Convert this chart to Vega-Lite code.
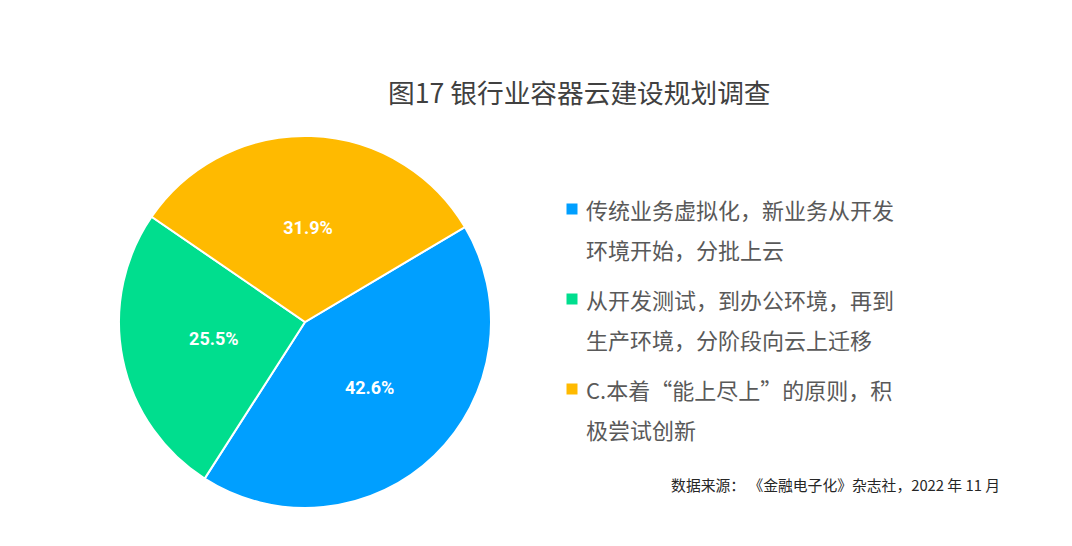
{
  "$schema": "https://vega.github.io/schema/vega-lite/v6.json",
  "width": 1072,
  "height": 546,
  "autosize": {"type": "none"},
  "padding": 0,
  "background": "white",
  "title": {
    "text": "图17 银行业容器云建设规划调查",
    "anchor": "start",
    "frame": "group",
    "dx": 388,
    "offset": -109,
    "fontSize": 26.7,
    "font": "Noto Sans CJK SC",
    "fontWeight": "normal",
    "color": "#404040"
  },
  "layer": [
    {
      "data": {
        "values": [
          {"category": "传统业务虚拟化，新业务从开发|环境开始，分批上云", "share": 42.6, "label": "42.6%", "order": 1},
          {"category": "从开发测试，到办公环境，再到|生产环境，分阶段向云上迁移", "share": 25.5, "label": "25.5%", "order": 2},
          {"category": "C.本着“能上尽上”的原则，积|极尝试创新", "share": 31.9, "label": "31.9%", "order": 3}
        ]
      },
      "encoding": {
        "theta": {"field": "share", "type": "quantitative", "stack": true, "scale": {"range": [1.035, 7.318]}},
        "order": {"field": "order", "type": "quantitative"},
        "x": {"value": 305},
        "y": {"value": 322}
      },
      "layer": [
        {
          "mark": {"type": "arc", "outerRadius": 186, "stroke": "white", "strokeWidth": 2},
          "encoding": {
            "color": {
              "field": "category",
              "type": "nominal",
              "scale": {
                "domain": [
                  "传统业务虚拟化，新业务从开发|环境开始，分批上云",
                  "从开发测试，到办公环境，再到|生产环境，分阶段向云上迁移",
                  "C.本着“能上尽上”的原则，积|极尝试创新"
                ],
                "range": ["#009FFF", "#00DE8E", "#FFBA00"]
              },
              "legend": {
                "orient": "none",
                "legendX": 561,
                "legendY": 198,
                "title": null,
                "symbolType": "square",
                "symbolSize": 121,
                "symbolStrokeWidth": 0,
                "symbolOpacity": 1,
                "labelFontSize": 22,
                "labelFont": "Noto Sans CJK SC",
                "labelColor": "#595959",
                "labelExpr": "split(datum.label, '|')",
                "labelLimit": 500,
                "labelOffset": 3,
                "labelBaseline": "top",
                "rowPadding": 25
              }
            }
          }
        },
        {
          "mark": {
            "type": "text",
            "radius": 93,
            "font": "Roboto",
            "fontSize": 18,
            "fontWeight": "bold",
            "color": "white"
          },
          "encoding": {"text": {"field": "label"}}
        }
      ]
    },
    {
      "data": {"values": [{"src": "数据来源：  《金融电子化》杂志社，2022 年 11 月"}]},
      "mark": {
        "type": "text",
        "align": "right",
        "baseline": "middle",
        "font": "Noto Sans CJK SC",
        "fontSize": 14.8,
        "color": "#262626"
      },
      "encoding": {
        "text": {"field": "src"},
        "x": {"value": 1000},
        "y": {"value": 487}
      }
    }
  ],
  "config": {
    "view": {"stroke": null},
    "style": {"guide-label": {"lineHeight": 40, "dy": -7}}
  }
}
